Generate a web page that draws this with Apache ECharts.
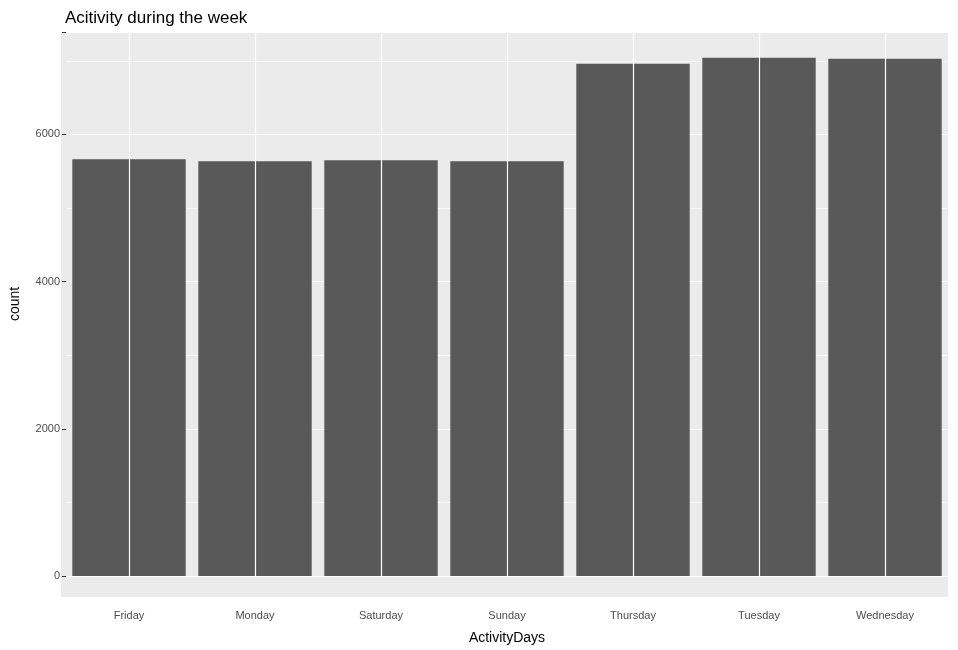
<!DOCTYPE html>
<html><head><meta charset="utf-8">
<script src="https://cdn.jsdelivr.net/npm/echarts@6/dist/echarts.min.js"></script>
<style>html,body{margin:0;padding:0;background:#fff}#c{width:958px;height:650px}</style>
</head><body><div id="c"></div>
<script>
const categories = ['Friday','Monday','Saturday','Sunday','Thursday','Tuesday','Wednesday'];
const counts = [5662, 5635, 5649, 5635, 6959, 7041, 7027];
const yTicks = [0, 2000, 4000, 6000];

const chart = echarts.init(document.getElementById('c'));
chart.setOption({
  animation: false,
  backgroundColor: '#fff',
  title: { text: 'Acitivity during the week', left: 60, top: 5,
    textStyle: { fontFamily: 'Liberation Sans', fontSize: 17, fontWeight: 'normal', color: '#000' } },
  graphic: [{ type: 'rect', shape: { x: 61, y: 32, width: 887, height: 565 }, style: { fill: '#ebebeb' }, z: -10 }],
  grid: { left: 61, right: 10, top: 32, bottom: 71 },
  xAxis: {
    type: 'category', data: categories,
    name: 'ActivityDays', nameLocation: 'middle', nameGap: 55,
    nameTextStyle: { fontFamily: 'Liberation Sans', fontSize: 14, color: '#000' },
    axisLine: { show: false },
    axisTick: { show: false },
    axisLabel: { show: true, margin: 34, fontFamily: 'Liberation Sans', fontSize: 11, color: '#4d4d4d' },
    splitLine: { show: false }
  },
  yAxis: {
    type: 'value', min: 0, max: 7392, interval: 2000,
    name: 'count', nameLocation: 'middle', nameGap: 44,
    nameTextStyle: { fontFamily: 'Liberation Sans', fontSize: 14, color: '#000' },
    axisLine: { show: false },
    axisTick: { show: true, length: 4, lineStyle: { color: '#333' } },
    axisLabel: { fontFamily: 'Liberation Sans', fontSize: 11, color: '#4d4d4d', margin: 6,
      formatter: v => yTicks.includes(v) ? String(v) : '' },
    splitLine: { show: true, lineStyle: { color: '#fff', width: 1.2 } },
    minorTick: { show: false, splitNumber: 2 },
    minorSplitLine: { show: true, lineStyle: { color: '#fff', width: 0.6 } }
  },
  series: [
    { type: 'line', data: [], z: 1, silent: true,
      markLine: { silent: true, symbol: 'none', label: { show: false },
        lineStyle: { color: '#fff', width: 1.2, type: 'solid' },
        data: categories.map(c => ({ xAxis: c })) } },
    { type: 'bar', data: counts, z: 3, barCategoryGap: '10%',
      itemStyle: { color: '#595959' } }
  ]
});
</script></body></html>
